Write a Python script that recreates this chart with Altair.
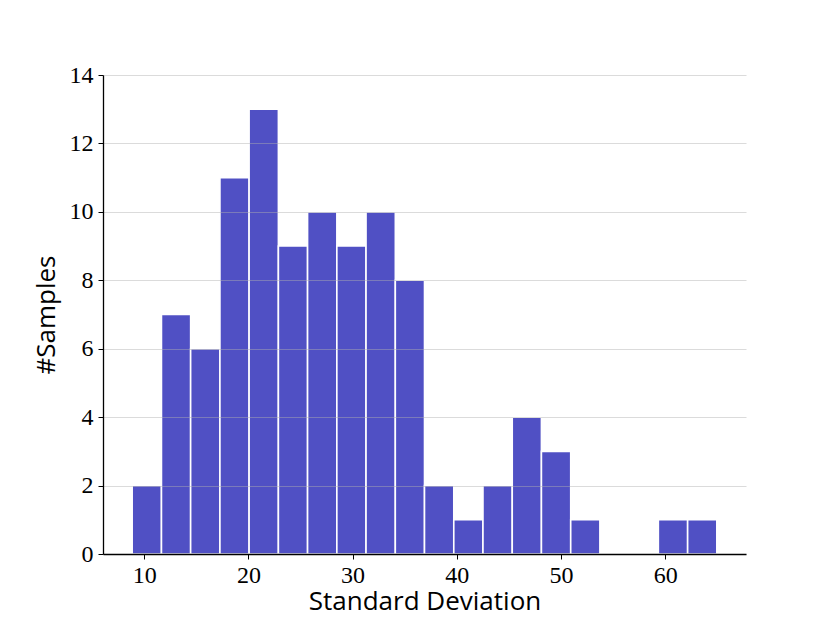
import altair as alt
import pandas as pd

# histogram counts per bin
counts = [2, 7, 6, 11, 13, 9, 10, 9, 10, 8, 2, 1, 2, 4, 3, 1, 0, 0, 1, 1]
bin_edges = [8.85, 11.66, 14.46, 17.27, 20.07, 22.88, 25.68, 28.49, 31.29, 34.10,
             36.90, 39.71, 42.51, 45.32, 48.12, 50.93, 53.73, 56.54, 59.34, 62.15, 64.95]
x_ticks = [10, 20, 30, 40, 50, 60]
y_ticks = [0, 2, 4, 6, 8, 10, 12, 14]

df = pd.DataFrame({
    "start": bin_edges[:-1],
    "end": bin_edges[1:],
    "count": counts,
})
df = df[df["count"] > 0]

bars = alt.Chart(df).mark_bar(
    color="#5050C4", stroke="white", strokeWidth=1.6
).encode(
    x=alt.X("start:Q",
            scale=alt.Scale(domain=[6.05, 67.75], nice=False, zero=False),
            axis=alt.Axis(values=x_ticks, grid=False, title="Standard Deviation",
                          titleFont="Open Sans", titleFontSize=26, titleFontWeight="normal",
                          titleColor="black", titlePadding=1, zindex=2,
                          labelFont="Liberation Serif", labelFontSize=24, labelColor="black",
                          labelPadding=4, tickColor="black", tickSize=5,
                          domainColor="black", domainWidth=1.3)),
    x2="end:Q",
    y=alt.Y("count:Q",
            scale=alt.Scale(domain=[0, 14], nice=False),
            axis=alt.Axis(values=y_ticks, grid=True, gridColor="#b0b0b0", gridOpacity=0.45,
                          zindex=1, title="#Samples",
                          titleFont="Open Sans", titleFontSize=26, titleFontWeight="normal",
                          titleColor="black", titlePadding=10,
                          labelFont="Liberation Serif", labelFontSize=24, labelColor="black",
                          labelPadding=5, tickColor="black", tickSize=5,
                          domainColor="black", domainWidth=1.3)),
    y2=alt.datum(0),
)

chart = bars.properties(
    width=643, height=479,
    autosize="none",
    padding={"left": 95, "top": 67, "right": 76, "bottom": 61},
).configure_view(stroke=None)

chart.save("out.html", embed_options={"renderer": "svg", "actions": False})
